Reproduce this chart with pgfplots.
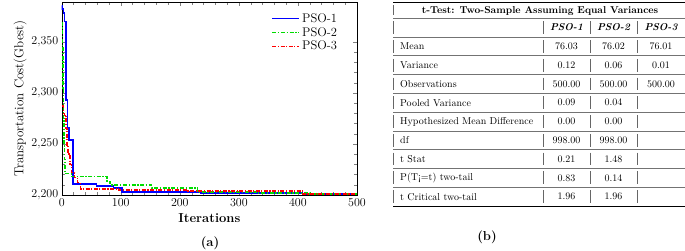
\documentclass[border=0pt]{standalone}
\usepackage{pgfplots}
\pgfplotsset{compat=1.18}
\definecolor{pblue}{RGB}{0,0,255}
\definecolor{pgreen}{RGB}{0,220,0}
\definecolor{pred}{RGB}{255,0,0}
\begin{document}
\begin{tikzpicture}
\useasboundingbox (0pt,-250pt) rectangle (685pt,0pt);
\begin{axis}[
 scale only axis, width=295.3pt, height=193pt,
 at={(61.7pt,-195pt)}, anchor=south west,
 xmin=0, xmax=500, ymin=2200, ymax=2389,
 xtick={0,100,...,500}, ytick={2200,2250,2300,2350},
 minor x tick num=4, minor y tick num=4,
 tick label style={font=\fontsize{13}{15}\selectfont},
 xlabel={\textbf{Iterations}}, ylabel={Transportation Cost(Gbest)},
 label style={font=\fontsize{13}{15}\selectfont},
 ylabel style={yshift=-2pt},
 legend style={draw=none, fill=none, at={(0.95,0.962)}, anchor=north east,
   font=\fontsize{12.5}{13}\selectfont, row sep=-0.5pt},
 legend cell align=left,
 legend image code/.code={\draw[#1] (0pt,0pt) -- (27pt,0pt);},
]
\addplot[const plot, color=pblue, line width=1.6pt] coordinates {
 (0,2385) (1,2382) (3,2378) (5,2370) (7,2293) (10,2265.5) (12.5,2254)
 (19,2211) (59,2209) (88,2207) (102,2203) (236,2202) (408,2201) (500,2201)};
\addlegendentry{PSO-1}
\addplot[const plot, color=pgreen, line width=1.5pt,
   dash pattern=on 4pt off 1.6pt on 1.4pt off 1.6pt] coordinates {
 (0,2369) (1,2345) (2,2305) (3,2275) (4,2248) (5,2235) (6,2221)
 (17,2218) (77,2213) (82,2210) (152,2207) (230,2203) (330,2202) (420,2201) (500,2201)};
\addlegendentry{PSO-2}
\addplot[const plot, color=pred, line width=1.4pt,
   dash pattern=on 4pt off 1.5pt on 1.2pt off 1.5pt] coordinates {
 (0,2287) (3,2280) (5,2278) (7,2265) (9,2248) (11,2240) (14,2230) (17,2222)
 (22,2217) (27,2212) (32,2206) (96,2205) (214,2204) (408,2201) (500,2201)};
\addlegendentry{PSO-3}
\end{axis}
\node[font=\fontsize{13}{15}\selectfont\bfseries] at (210pt,-243pt) {(a)};
\node[font=\fontsize{13}{15}\selectfont\bfseries] at (487pt,-237pt) {(b)};
% table
\draw[line width=1pt] (393pt,-2pt) -- (685pt,-2pt);
\draw[line width=1pt] (393pt,-206pt) -- (685pt,-206pt);
\foreach \r in {18,37,55.8,74.6,93.3,112.1,130.9,149.7,168.4,187.2}
  \draw[black!55, line width=0.7pt] (393pt,{-\r*1pt}) -- (685pt,{-\r*1pt});
\draw[black!60, line width=0.6pt] (393pt,-5pt) -- (393pt,-15pt);
\foreach \t/\b in {18/37,37/55.8,55.8/74.6,74.6/93.3,93.3/112.1,112.1/130.9,130.9/149.7,149.7/168.4,168.4/187.2,187.2/206}
  \foreach \xx in {393,543,590,637}
    \draw[black!60, line width=0.6pt] ({\xx*1pt},{-(\t+3)*1pt}) -- ({\xx*1pt},{-(\b-3)*1pt});
\node[font=\bfseries, inner sep=0pt] at (540pt,-11pt) {t-Test: Two-Sample Assuming Equal Variances};
\foreach \xx/\lab in {566.5/1,613.5/2,661/3}
  \node[font=\bfseries\itshape, inner sep=0pt] at ({\xx*1pt},-27.5pt) {PSO-\lab};
\foreach \yy/\lab/\a/\b/\c in {
 46.4/Mean/76.03/76.02/76.01,
 65.2/Variance/0.12/0.06/0.01,
 84/Observations/500.00/500.00/500.00,
 102.7/Pooled Variance/0.09/0.04/,
 121.5/Hypothesized Mean Difference/0.00/0.00/,
 140.3/df/998.00/998.00/,
 159/t Stat/0.21/1.48/,
 177.8/P(T\textexclamdown=t) two-tail/0.83/0.14/,
 196.6/t Critical two-tail/1.96/1.96/}{
  \node[anchor=west, inner sep=0pt] at (400pt,{-\yy*1pt}) {\lab};
  \node[inner sep=0pt] at (566.5pt,{-\yy*1pt}) {\a};
  \node[inner sep=0pt] at (613.5pt,{-\yy*1pt}) {\b};
  \node[inner sep=0pt] at (661pt,{-\yy*1pt}) {\c};
}
\end{tikzpicture}
\end{document}
